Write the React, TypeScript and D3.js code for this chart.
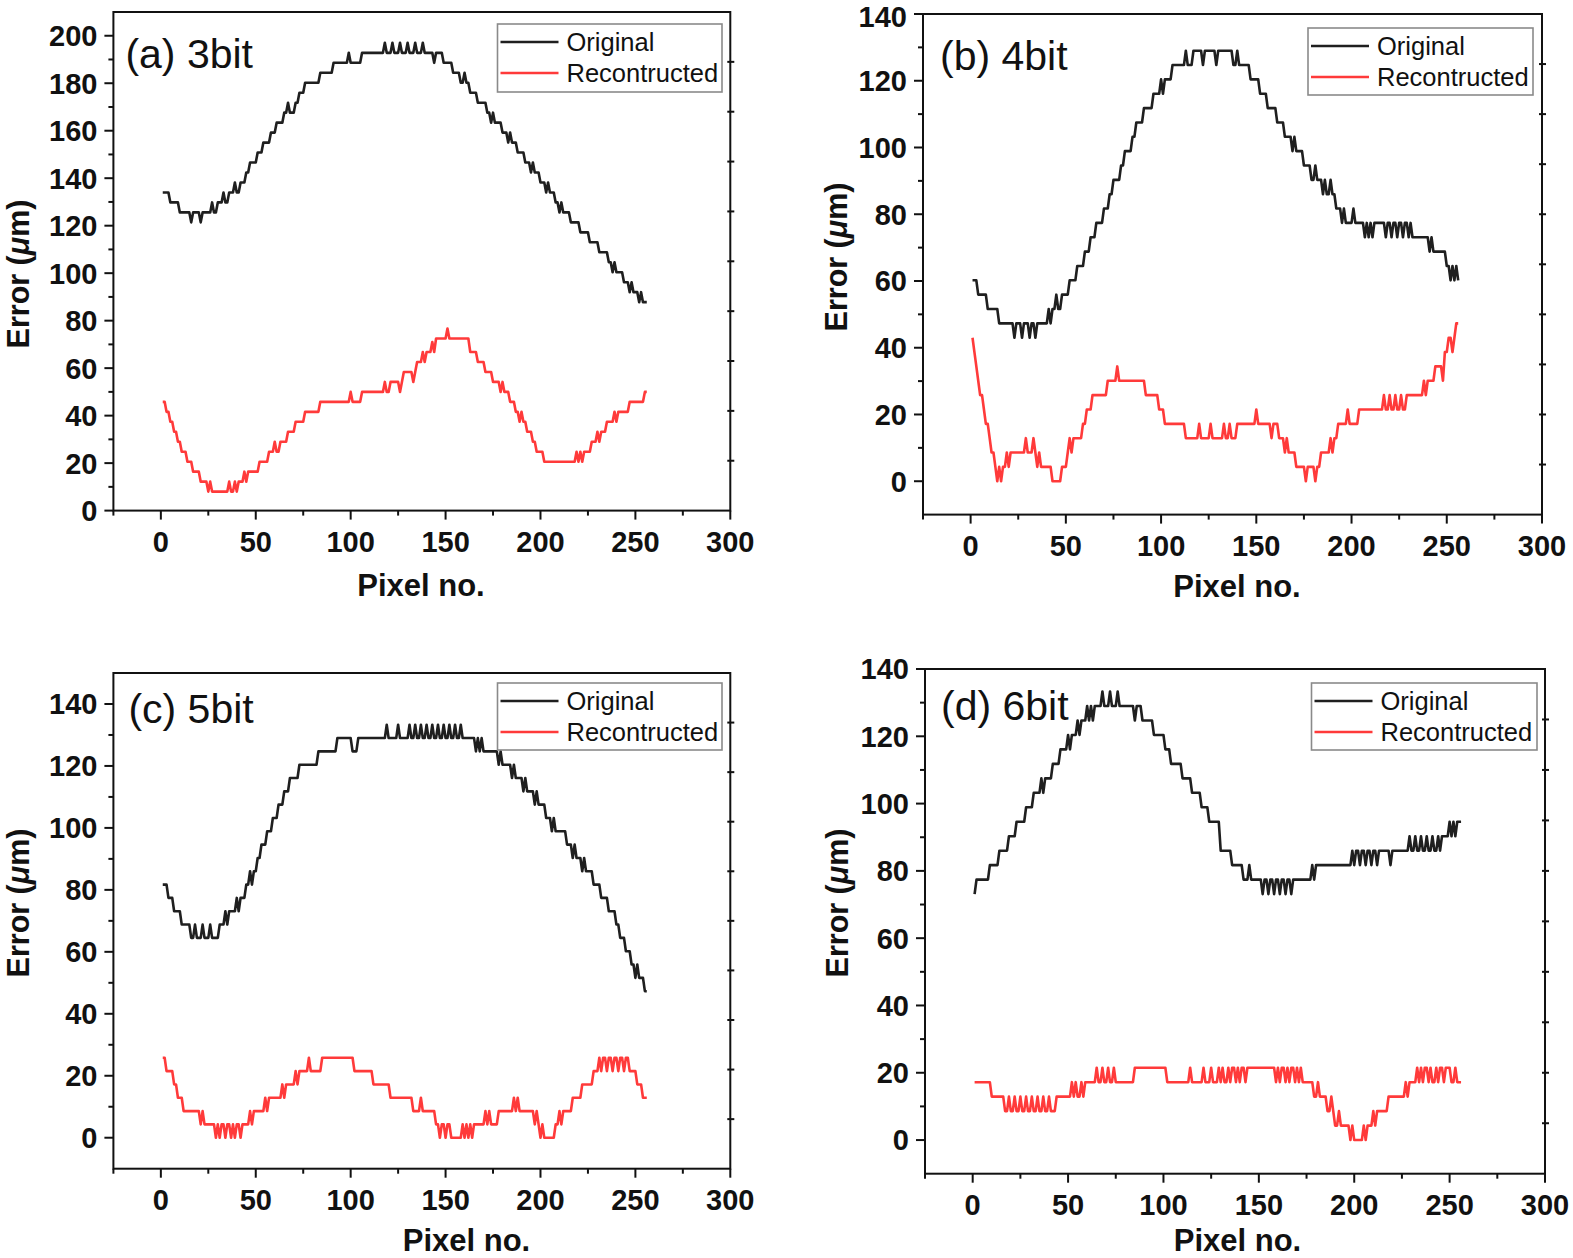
import * as d3 from 'd3'

const WIDTH = 1573
const HEIGHT = 1258
const FONT = '"Liberation Sans", Arial, Helvetica, sans-serif'

const X_DOMAIN = [-25, 300]
const X_TICKS = [0, 50, 100, 150, 200, 250, 300]
const X_MINOR = [-25, 25, 75, 125, 175, 225, 275]
const Y_TICKS_200 = [0, 20, 40, 60, 80, 100, 120, 140, 160, 180, 200]
const Y_MINOR_200 = [10, 30, 50, 70, 90, 110, 130, 150, 170, 190]
const Y_TICKS_140 = [0, 20, 40, 60, 80, 100, 120, 140]
const Y_MINOR_140 = [10, 30, 50, 70, 90, 110, 130]

const LEGEND_LABELS = ['Original', 'Recontructed']
const PANEL_TITLES = ['(a) 3bit', '(b) 4bit', '(c) 5bit', '(d) 6bit']

// each trace: runs of [error (um), number of consecutive pixels], pixels 1..256
const ORIG_3BIT = [
  [134.0, 4], [129.8, 5], [125.6, 6], [121.4, 1], [125.6, 4], [121.4, 1], [125.6, 5], [129.8, 1], [125.6, 2],
  [129.8, 3], [134.0, 1], [129.8, 2], [134.0, 3], [138.2, 1], [134.0, 2], [138.2, 3], [142.4, 2], [146.6, 4],
  [150.8, 3], [155.0, 4], [159.2, 3], [163.4, 4], [167.6, 2], [171.8, 1], [167.6, 3], [171.8, 2], [176.0, 3],
  [180.2, 8], [184.4, 7], [188.6, 8], [192.8, 1], [188.6, 6], [192.8, 12],
  [197.0, 1], [192.8, 3], [197.0, 1], [192.8, 3], [197.0, 1], [192.8, 3], [197.0, 1], [192.8, 3], [197.0, 1],
  [192.8, 3], [197.0, 1],
  [192.8, 5], [188.6, 1], [192.8, 4], [188.6, 5], [184.4, 4], [180.2, 2], [184.4, 1], [180.2, 2], [176.0, 4],
  [171.8, 5], [167.6, 2], [163.4, 1], [167.6, 1], [163.4, 4], [159.2, 3], [155.0, 1], [159.2, 1], [155.0, 3],
  [150.8, 4], [146.6, 3], [142.4, 1], [146.6, 1], [142.4, 3], [138.2, 3], [134.0, 1], [138.2, 1], [134.0, 3],
  [129.8, 2], [125.6, 1], [129.8, 1], [125.6, 4], [121.4, 5], [117.2, 5], [113.0, 5], [108.8, 5], [104.6, 2],
  [100.4, 1], [104.6, 1], [100.4, 4], [96.2, 3], [92.0, 1], [96.2, 1], [92.0, 3], [87.8, 1], [92.0, 1], [87.8, 3],
]
const REC_3BIT = [
  [45.8, 2], [41.6, 2], [37.4, 2], [33.2, 2], [29.0, 2], [24.8, 3], [20.6, 3], [16.4, 4], [12.2, 4],
  [8.0, 1], [12.2, 1], [8.0, 9], [12.2, 1], [8.0, 2], [12.2, 1], [8.0, 1], [12.2, 3], [16.4, 1], [12.2, 1],
  [16.4, 6], [20.6, 5], [24.8, 3], [29.0, 1], [24.8, 2], [29.0, 4], [33.2, 4], [37.4, 5], [41.6, 8], [45.8, 16],
  [50.0, 1], [45.8, 5], [50.0, 12], [54.2, 1], [50.0, 2], [54.2, 5], [50.0, 1], [54.2, 1], [58.4, 5], [54.2, 1],
  [58.4, 1], [62.6, 3], [66.8, 1], [62.6, 1], [66.8, 3], [71.0, 1], [66.8, 1], [72.5, 6], [76.7, 1], [72.5, 11],
  [66.8, 4], [62.6, 4], [58.4, 4], [54.2, 4], [50.0, 1], [54.2, 1], [50.0, 3], [45.8, 3], [41.6, 2], [37.4, 1],
  [41.6, 1], [37.4, 2], [33.2, 3], [29.0, 2], [24.8, 4], [20.6, 17], [24.8, 1], [20.6, 1], [24.8, 1], [20.6, 1],
  [24.8, 4], [29.0, 3], [33.2, 1], [29.0, 1], [33.2, 3], [37.4, 4], [41.6, 1], [37.4, 1], [41.6, 6], [45.8, 8],
  [50.0, 2],
]
const ORIG_4BIT = [
  [60.2, 3], [55.9, 5], [51.6, 6], [47.3, 8], [43.0, 1], [47.3, 3], [43.0, 1], [47.3, 3], [43.0, 1], [47.3, 2],
  [43.0, 1], [47.3, 6], [51.6, 1], [47.3, 1], [51.6, 2], [55.9, 1], [51.6, 2], [55.9, 4], [60.2, 4], [64.5, 4],
  [68.8, 3], [73.1, 3], [77.4, 4], [81.7, 3], [86.0, 2], [90.3, 4], [94.6, 2], [98.9, 4], [103.2, 2], [107.5, 4],
  [111.8, 5], [116.1, 4], [120.4, 1], [116.1, 1], [120.4, 4], [124.7, 7], [129.0, 1], [124.7, 3], [129.0, 5],
  [124.7, 1], [129.0, 6], [124.7, 1], [129.0, 8], [124.7, 2], [129.0, 1], [124.7, 6], [120.4, 5], [116.1, 4],
  [111.8, 5], [107.5, 4], [103.2, 4], [98.9, 1], [103.2, 1], [98.9, 4], [94.6, 4], [90.3, 2], [94.6, 1], [90.3, 3],
  [86.0, 1], [90.3, 1], [86.0, 2], [90.3, 1], [86.0, 2], [81.7, 3], [77.4, 1], [81.7, 1], [77.4, 4], [81.7, 1],
  [77.4, 5], [73.1, 1], [77.4, 1], [73.1, 1], [77.4, 1], [73.1, 1], [77.4, 6], [73.1, 1], [77.4, 2], [73.1, 1],
  [77.4, 2], [73.1, 1], [77.4, 2], [73.1, 1], [77.4, 2], [73.1, 1], [77.4, 1], [73.1, 9], [68.8, 1], [73.1, 1],
  [68.8, 7], [64.5, 2], [60.2, 1], [64.5, 1], [60.2, 1], [64.5, 1], [60.2, 1],
]
const REC_4BIT = [
  [43.0, 1], [38.7, 1], [34.4, 1], [30.1, 1], [25.8, 2], [21.5, 1], [17.2, 2], [12.9, 1], [8.6, 2], [4.3, 1],
  [0, 1], [4.3, 1], [0, 1], [4.3, 2], [8.6, 1], [4.3, 1], [8.6, 8], [12.9, 1], [8.6, 3], [12.9, 1], [8.6, 1],
  [4.3, 1], [8.6, 1], [4.3, 6], [0, 5], [4.3, 3], [8.6, 1], [12.9, 1], [8.6, 1], [12.9, 5], [17.2, 2], [21.5, 3],
  [25.8, 8], [30.1, 5], [34.4, 1], [30.1, 14], [25.8, 7], [21.5, 3], [17.2, 11], [12.9, 7], [17.2, 1], [12.9, 5],
  [17.2, 1], [12.9, 6], [17.2, 1], [12.9, 2], [17.2, 1], [12.9, 3], [17.2, 10], [21.5, 1], [17.2, 7], [12.9, 1],
  [17.2, 3], [12.9, 3], [8.6, 1], [12.9, 1], [8.6, 4], [4.3, 5], [0, 1], [4.3, 4], [0, 1], [4.3, 2], [8.6, 5],
  [12.9, 1], [8.6, 1], [12.9, 2], [17.2, 5], [21.5, 1], [17.2, 5], [21.5, 13], [25.8, 1], [21.5, 2], [25.8, 1],
  [21.5, 2], [25.8, 1], [21.5, 2], [25.8, 1], [21.5, 2], [25.8, 9], [30.1, 1], [25.8, 1], [30.1, 4], [34.4, 4],
  [30.1, 1], [38.7, 2], [43.0, 2], [38.7, 1], [43.0, 1], [47.3, 2],
]
const ORIG_5BIT = [
  [81.7, 3], [77.4, 3], [73.1, 4], [68.8, 5], [64.5, 2], [68.8, 1], [64.5, 3], [68.8, 1], [64.5, 3], [68.8, 1],
  [64.5, 4], [68.8, 3], [73.1, 1], [68.8, 1], [73.1, 4], [77.4, 1], [73.1, 1], [77.4, 3], [81.7, 2], [86.0, 1],
  [81.7, 1], [86.0, 2], [90.3, 2], [94.6, 3], [98.9, 3], [103.2, 3], [107.5, 3], [111.8, 3], [116.1, 5],
  [120.4, 10], [124.7, 10], [129.0, 8], [124.7, 3], [129.0, 15], [133.3, 1], [129.0, 5], [133.3, 1], [129.0, 5],
  [133.3, 1], [129.0, 2], [133.3, 1], [129.0, 2], [133.3, 1], [129.0, 2], [133.3, 1], [129.0, 2], [133.3, 1],
  [129.0, 2], [133.3, 1], [129.0, 2], [133.3, 1], [129.0, 2], [133.3, 1], [129.0, 2], [133.3, 1], [129.0, 2],
  [133.3, 1], [129.0, 7], [124.7, 1], [129.0, 1], [124.7, 1], [129.0, 1], [124.7, 8], [120.4, 1], [124.7, 1],
  [120.4, 5], [116.1, 1], [120.4, 1], [116.1, 4], [111.8, 1], [116.1, 1], [111.8, 4], [107.5, 1], [111.8, 1],
  [107.5, 4], [103.2, 3], [98.9, 1], [103.2, 1], [98.9, 6], [94.6, 3], [90.3, 1], [94.6, 1], [90.3, 3], [86.0, 1],
  [90.3, 1], [86.0, 4], [81.7, 4], [77.4, 4], [73.1, 4], [68.8, 2], [64.5, 3], [60.2, 3], [55.9, 2], [51.6, 1],
  [55.9, 1], [51.6, 3], [47.3, 2],
]
const REC_5BIT = [
  [25.8, 2], [21.5, 4], [17.2, 2], [12.9, 3], [8.6, 9], [4.3, 1], [8.6, 1], [4.3, 6],
  [0, 1], [4.3, 1], [0, 1], [4.3, 2], [0, 1], [4.3, 2], [0, 1], [4.3, 1], [0, 1], [4.3, 2], [0, 1], [4.3, 4],
  [8.6, 1], [4.3, 1], [8.6, 6], [12.9, 1], [8.6, 1], [12.9, 7], [17.2, 1], [12.9, 1], [17.2, 5], [21.5, 1],
  [17.2, 1], [21.5, 5], [25.8, 1], [21.5, 6], [25.8, 17], [21.5, 10], [17.2, 9], [12.9, 12], [8.6, 4], [12.9, 1],
  [8.6, 7], [4.3, 2], [0, 1], [4.3, 2], [0, 1], [4.3, 2], [0, 6], [4.3, 1], [0, 1], [4.3, 1], [0, 1], [4.3, 1],
  [0, 1], [4.3, 6], [8.6, 1], [4.3, 1], [8.6, 1], [4.3, 4], [8.6, 8], [12.9, 1], [8.6, 1], [12.9, 1], [8.6, 8],
  [4.3, 1], [8.6, 1], [4.3, 1], [0, 1], [4.3, 1], [0, 6], [4.3, 2], [8.6, 1], [4.3, 1], [8.6, 5], [12.9, 5],
  [17.2, 6], [21.5, 3], [25.8, 1], [21.5, 1], [25.8, 2], [21.5, 1], [25.8, 2], [21.5, 1], [25.8, 2], [21.5, 1],
  [25.8, 2], [21.5, 1], [25.8, 2], [21.5, 4], [17.2, 3], [12.9, 3],
]
const ORIG_6BIT = [
  [73.1, 1], [77.4, 7], [81.7, 5], [86.0, 5], [90.3, 4], [94.6, 5], [98.9, 4], [103.2, 4], [107.5, 1],
  [103.2, 1], [107.5, 4], [111.8, 4], [116.1, 4], [120.4, 1], [116.1, 1], [120.4, 3], [124.7, 1], [120.4, 1],
  [124.7, 3], [129.0, 1], [124.7, 1], [129.0, 1], [124.7, 1], [129.0, 4], [133.3, 1], [129.0, 3], [133.3, 1],
  [129.0, 3], [133.3, 1], [129.0, 8], [124.7, 1], [129.0, 3], [124.7, 6], [120.4, 6], [116.1, 3], [111.8, 6],
  [107.5, 5], [103.2, 5], [98.9, 4], [94.6, 6], [86.0, 6], [81.7, 6], [77.4, 3], [81.7, 1], [77.4, 6],
  [73.1, 1], [77.4, 2], [73.1, 1], [77.4, 2], [73.1, 1], [77.4, 2], [73.1, 1], [77.4, 2], [73.1, 1], [77.4, 2],
  [73.1, 1], [77.4, 10], [81.7, 1], [77.4, 1], [81.7, 19], [86.0, 1], [81.7, 1], [86.0, 2], [81.7, 1], [86.0, 2],
  [81.7, 1], [86.0, 2], [81.7, 1], [86.0, 2], [81.7, 1], [86.0, 6], [81.7, 1], [86.0, 9], [90.3, 1], [86.0, 2],
  [90.3, 1], [86.0, 2], [90.3, 1], [86.0, 2], [90.3, 1], [86.0, 2], [90.3, 1], [86.0, 2], [90.3, 1], [86.0, 1],
  [90.3, 4], [94.6, 1], [90.3, 1], [94.6, 1], [90.3, 1], [94.6, 3],
]
const REC_6BIT = [
  [17.2, 9], [12.9, 7],
  [8.6, 2], [12.9, 1], [8.6, 2], [12.9, 1], [8.6, 2], [12.9, 1], [8.6, 2], [12.9, 1], [8.6, 2], [12.9, 1],
  [8.6, 2], [12.9, 1], [8.6, 2], [12.9, 1], [8.6, 2], [12.9, 1], [8.6, 3],
  [12.9, 8], [17.2, 1], [12.9, 1], [17.2, 1], [12.9, 2], [17.2, 1], [12.9, 1], [17.2, 6], [21.5, 1], [17.2, 2],
  [21.5, 1], [17.2, 2], [21.5, 1], [17.2, 2], [21.5, 1], [17.2, 10], [21.5, 17], [17.2, 12], [21.5, 1], [17.2, 6],
  [21.5, 1], [17.2, 3], [21.5, 1], [17.2, 3], [21.5, 1], [17.2, 1], [21.5, 1], [17.2, 2], [21.5, 1], [17.2, 1],
  [21.5, 2], [17.2, 1], [21.5, 1], [17.2, 1], [21.5, 2], [17.2, 1], [21.5, 15], [17.2, 1], [21.5, 1], [17.2, 1],
  [21.5, 2], [17.2, 1], [21.5, 1], [17.2, 1], [21.5, 2], [17.2, 1], [21.5, 1], [17.2, 1], [21.5, 1], [17.2, 6],
  [12.9, 2], [17.2, 1], [12.9, 4], [8.6, 2], [12.9, 1], [8.6, 1], [4.3, 2], [8.6, 1], [4.3, 5], [0, 1], [4.3, 1],
  [0, 5], [4.3, 1], [0, 1], [4.3, 3], [8.6, 1], [4.3, 1], [8.6, 6], [12.9, 9], [17.2, 1], [12.9, 1], [17.2, 4],
  [21.5, 1], [17.2, 1], [21.5, 1], [17.2, 1], [21.5, 2], [17.2, 1], [21.5, 1], [17.2, 2], [21.5, 1], [17.2, 1],
  [21.5, 2], [17.2, 1], [21.5, 3], [17.2, 2], [21.5, 1], [17.2, 3],
]

// panel placement on the page
const LAYOUT = [
  { left: 113.4, right: 730.3, top: 12, bottom: 510.6, yDomain: [0, 210], yTicks: Y_TICKS_200, yMinor: Y_MINOR_200,
    titleX: 125.4, titleY: 68, xLabelX: 421, xLabelY: 596, yLabel: [29, 274], legend: [497.5, 24, 224.5, 68] },
  { left: 923, right: 1542, top: 14, bottom: 514.6, yDomain: [-10, 140], yTicks: Y_TICKS_140, yMinor: Y_MINOR_140,
    titleX: 940, titleY: 70, xLabelX: 1237, xLabelY: 597, yLabel: [847, 257], legend: [1308, 28, 225, 67] },
  { left: 113.4, right: 730.3, top: 673, bottom: 1168.7, yDomain: [-10, 150], yTicks: Y_TICKS_140, yMinor: Y_MINOR_140,
    titleX: 128.4, titleY: 723, xLabelX: 466.5, xLabelY: 1251, yLabel: [29, 903], legend: [497.5, 683, 224.5, 67] },
  { left: 925, right: 1545, top: 669, bottom: 1173.7, yDomain: [-10, 140], yTicks: Y_TICKS_140, yMinor: Y_MINOR_140,
    titleX: 941, titleY: 720, xLabelX: 1237.5, xLabelY: 1251, yLabel: [848, 903], legend: [1311.5, 683, 225.5, 67] },
]
const SERIES = [
  [ORIG_3BIT, REC_3BIT],
  [ORIG_4BIT, REC_4BIT],
  [ORIG_5BIT, REC_5BIT],
  [ORIG_6BIT, REC_6BIT],
]

const BLACK = '#1f1f1f'
const RED = '#ff3a3a'
const LINE_W = 2.6

function toPoints(runs) {
  const pts = []
  let px = 1
  runs.forEach(([v, n]) => {
    for (let k = 0; k < n; k++) pts.push([px++, v])
  })
  return pts
}

function Panel({ cfg, title, series }) {
  const x = d3.scaleLinear().domain(X_DOMAIN).range([cfg.left, cfg.right])
  const y = d3.scaleLinear().domain(cfg.yDomain).range([cfg.bottom, cfg.top])
  const line = d3.line().x(d => x(d[0])).y(d => y(d[1]))
  const [orig, rec] = series.map(toPoints)
  const [lx, ly, lw, lh] = cfg.legend
  const rightTicks = d3.range(1, 10).map(i => cfg.top + (i * (cfg.bottom - cfg.top)) / 10)

  return (
    <g>
      <path d={line(orig)} fill="none" stroke={BLACK} strokeWidth={LINE_W} strokeLinejoin="round" />
      <path d={line(rec)} fill="none" stroke={RED} strokeWidth={LINE_W} strokeLinejoin="round" />

      <rect x={cfg.left} y={cfg.top} width={cfg.right - cfg.left} height={cfg.bottom - cfg.top}
        fill="none" stroke="#111" strokeWidth={2} />

      {cfg.yTicks.map(v => (
        <line key={'ym' + v} x1={cfg.left - 9} x2={cfg.left} y1={y(v)} y2={y(v)} stroke="#111" strokeWidth={2} />
      ))}
      {cfg.yMinor.map(v => (
        <line key={'yn' + v} x1={cfg.left - 5} x2={cfg.left} y1={y(v)} y2={y(v)} stroke="#111" strokeWidth={2} />
      ))}
      {X_TICKS.map(v => (
        <line key={'xm' + v} x1={x(v)} x2={x(v)} y1={cfg.bottom} y2={cfg.bottom + 9} stroke="#111" strokeWidth={2} />
      ))}
      {X_MINOR.map(v => (
        <line key={'xn' + v} x1={x(v)} x2={x(v)} y1={cfg.bottom} y2={cfg.bottom + 5} stroke="#111" strokeWidth={2} />
      ))}
      {rightTicks.map((ty, i) => (
        <line key={'r' + i} x1={cfg.right - 3} x2={cfg.right + 4} y1={ty} y2={ty} stroke="#111" strokeWidth={2} />
      ))}

      <g fontFamily={FONT} fontWeight="bold" fontSize={29} fill="#111">
        {cfg.yTicks.map(v => (
          <text key={'yl' + v} x={cfg.left - 16} y={Math.max(y(v), 17)} dy="0.36em" textAnchor="end">{v}</text>
        ))}
        {X_TICKS.map(v => (
          <text key={'xl' + v} x={x(v)} y={cfg.bottom + 41} textAnchor="middle">{v}</text>
        ))}
      </g>

      <text x={cfg.xLabelX} y={cfg.xLabelY} textAnchor="middle" fontFamily={FONT} fontWeight="bold"
        fontSize={31} fill="#111">Pixel no.</text>
      <text transform={`translate(${cfg.yLabel[0]},${cfg.yLabel[1]}) rotate(-90)`} textAnchor="middle"
        fontFamily={FONT} fontWeight="bold" fontSize={30.5} fill="#111">
        Error (<tspan fontStyle="italic">μ</tspan>m)
      </text>

      <text x={cfg.titleX} y={cfg.titleY} fontFamily={FONT} fontSize={41} fill="#111">{title}</text>

      <g>
        <rect x={lx} y={ly} width={lw} height={lh} fill="#fff" stroke="#8a8a8a" strokeWidth={1.6} />
        <line x1={lx + 3} x2={lx + 61} y1={ly + 18} y2={ly + 18} stroke={BLACK} strokeWidth={LINE_W} />
        <line x1={lx + 3} x2={lx + 61} y1={ly + 49} y2={ly + 49} stroke={RED} strokeWidth={LINE_W} />
        <text x={lx + 69} y={ly + 27} fontFamily={FONT} fontSize={25.5} fill="#111">{LEGEND_LABELS[0]}</text>
        <text x={lx + 69} y={ly + 58} fontFamily={FONT} fontSize={25.5} fill="#111">{LEGEND_LABELS[1]}</text>
      </g>
    </g>
  )
}

export default function App() {
  return (
    <svg width={WIDTH} height={HEIGHT} style={{ position: 'absolute', left: 0, top: 0, background: '#fff' }}>
      <rect width={WIDTH} height={HEIGHT} fill="#fff" />
      {LAYOUT.map((cfg, i) => (
        <Panel key={i} cfg={cfg} title={PANEL_TITLES[i]} series={SERIES[i]} />
      ))}
    </svg>
  )
}
